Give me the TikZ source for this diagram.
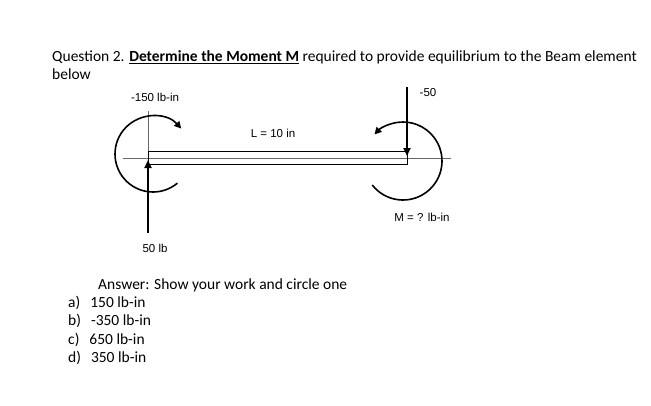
\documentclass[tikz,border=0pt]{standalone}
\usetikzlibrary{arrows.meta}
\usepackage{fontspec}
\setmainfont{Carlito}
\newfontfamily\arial{Liberation Sans}
\begin{document}
\begin{tikzpicture}[x=1pt,y=-1pt,
  lbl/.style={font=\arial\fontsize{11.5}{13}\selectfont,inner sep=0},
  txt/.style={font=\fontsize{15.5}{17}\selectfont,inner sep=0,anchor=west},
  force/.style={line width=2.6pt,-{Triangle[length=8pt,width=7pt]}},
  mom/.style={line width=1.6pt,-{Triangle[length=7pt,width=7pt]}},
  thin/.style={line width=0.4pt,gray!80!black}]
\useasboundingbox (0,0) rectangle (651,405);
\node[txt] (q1) at (52,57) {Question 2. \textbf{\underline{Determine the Moment M}} required to provide equilibrium to the Beam element};
\node[txt] (q2) at (52,74) {below};
% axes
\coordinate (axl) at (123,158); \coordinate (axr) at (451,158);
\draw[thin] (axl) -- (axr);
\coordinate (vt) at (148,111); \coordinate (vb) at (148,158);
\draw[thin] (vt) -- (vb);
% beam
\node[draw,line width=0.6pt,minimum width=259pt,minimum height=13pt,inner sep=0,anchor=north west] (beam) at (148,151) {};
% forces
\coordinate (f1s) at (148,233); \coordinate (f1e) at (148,160);
\draw[force] (f1s) -- (f1e);
\coordinate (f2s) at (407,87); \coordinate (f2e) at (407,156);
\draw[force] (f2s) -- (f2e);
% moments
\draw[mom] (153,154) ++(50:38) arc[start angle=50,end angle=318,radius=38];
\draw[mom] (403,161) ++(-218:39) arc[start angle=-218,end angle=-497,radius=39];
% labels
\node[lbl] (l1) at (155,97) {-150 lb-in};
\node[lbl] (l2) at (428,93) {-50};
\node[lbl] (l3) at (273,133) {L = 10 in};
\node[lbl] (l4) at (422,217) {M = ? lb-in};
\node[lbl] (l5) at (155,248) {50 lb};
\node[txt] (a0) at (98,285) {Answer: Show your work and circle one};
\node[txt] (a1) at (68,303) {a)\hspace{10pt}150 lb-in};
\node[txt] (a2) at (68,321) {b)\hspace{10pt}-350 lb-in};
\node[txt] (a3) at (68,340) {c)\hspace{10pt}650 lb-in};
\node[txt] (a4) at (68,358) {d)\hspace{10pt}350 lb-in};
\end{tikzpicture}
\end{document}
